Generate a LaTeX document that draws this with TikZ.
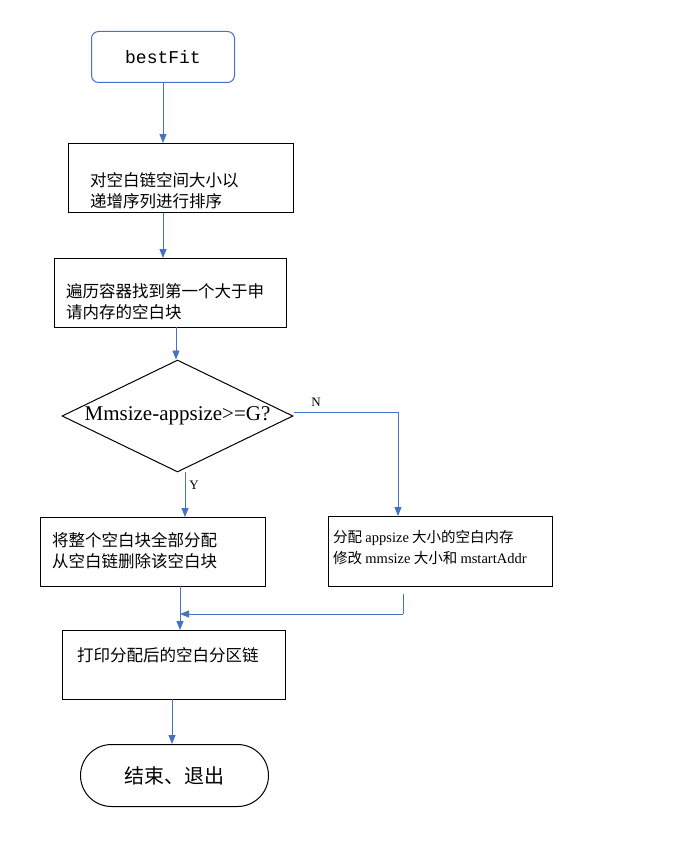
\documentclass[tikz,border=0pt]{standalone}
\usepackage{fontspec}
\setmainfont{Liberation Serif}
\newfontfamily\cjk{Noto Sans CJK SC}
\newfontfamily\mono{Liberation Mono}
\usetikzlibrary{arrows.meta,shapes.geometric}
\definecolor{ln}{HTML}{4472C4}
\begin{document}
\begin{tikzpicture}[x=1pt,y=-1pt,
 box/.style={draw=black,line width=1pt,rectangle,anchor=north west,inner sep=0},
 arr/.style={draw=ln,line width=0.8pt,-{Triangle[length=9pt,width=7pt]}},
 ln/.style={draw=ln,line width=0.8pt},
 txt/.style={anchor=west,font=\cjk\fontsize{16.5}{21}\selectfont,align=left,inner sep=0}]
\useasboundingbox (0,0) rectangle (681,848);
\node[draw=ln,line width=1pt,rounded corners=7pt,minimum width=143pt,minimum height=51pt,anchor=north west,font=\mono\fontsize{18}{20}\selectfont] (start) at (91,31) {bestFit};
\node[box,minimum width=225pt,minimum height=69pt] (b1) at (68,143) {};
\node[txt] (t1) at (90,191) {对空白链空间大小以\\递增序列进行排序};
\node[box,minimum width=232pt,minimum height=69pt] (b2) at (54,258) {};
\node[txt] (t2) at (66,302) {遍历容器找到第一个大于申\\请内存的空白块};
\node[draw=black,line width=1pt,diamond,aspect=2.07,minimum width=231pt,minimum height=112pt,inner sep=0] (d) at (177.5,416) {};
\node[font=\fontsize{21}{24}\selectfont] (dt) at (177.5,416) {Mmsize-appsize>=G?};
\node[box,minimum width=225pt,minimum height=69pt] (b3) at (40,517) {};
\node[txt] (t3) at (52,551) {将整个空白块全部分配\\从空白链删除该空白块};
\node[box,minimum width=224pt,minimum height=70pt] (b4) at (328,516) {};
\node[txt,font=\cjk\fontsize{14.5}{21}\selectfont] (t4) at (333,547) {分配 {\rmfamily appsize} 大小的空白内存\\修改 {\rmfamily mmsize} 大小和 {\rmfamily mstartAddr}};
\node[box,minimum width=223pt,minimum height=69pt] (b5) at (62,630) {};
\node[txt] (t5) at (77,655) {打印分配后的空白分区链};
\node[draw=black,line width=1pt,rounded corners=31pt,minimum width=188pt,minimum height=62pt,anchor=north west,font=\cjk\fontsize{20}{22}\selectfont] (end) at (80,744) {结束、退出};
\coordinate (m1) at (403,594);
\coordinate (m2) at (403,614);
\coordinate (m3) at (180,614);
\coordinate (n1) at (398,412);
\draw[arr] (start.south) -- (b1.north -| start.south);
\draw[arr] (b1.south -| start.south) -- (b2.north -| start.south);
\draw[arr] (176,327) -- (d.north -| 176,0);
\draw[arr] (185,472) -- (185,517);
\node[font=\fontsize{13}{15}\selectfont] (y) at (194,485) {Y};
\draw[ln] (d.east) ++(0,-4) -- (n1);
\draw[arr] (n1) -- (n1 |- b4.north);
\node[font=\fontsize{13}{15}\selectfont] (n) at (316,402) {N};
\draw[ln] (m1) -- (m2);
\draw[arr] (m2) -- (m3);
\draw[arr] (180,586) -- (180,630);
\draw[arr] (172,699) -- (172,744);
\end{tikzpicture}
\end{document}
